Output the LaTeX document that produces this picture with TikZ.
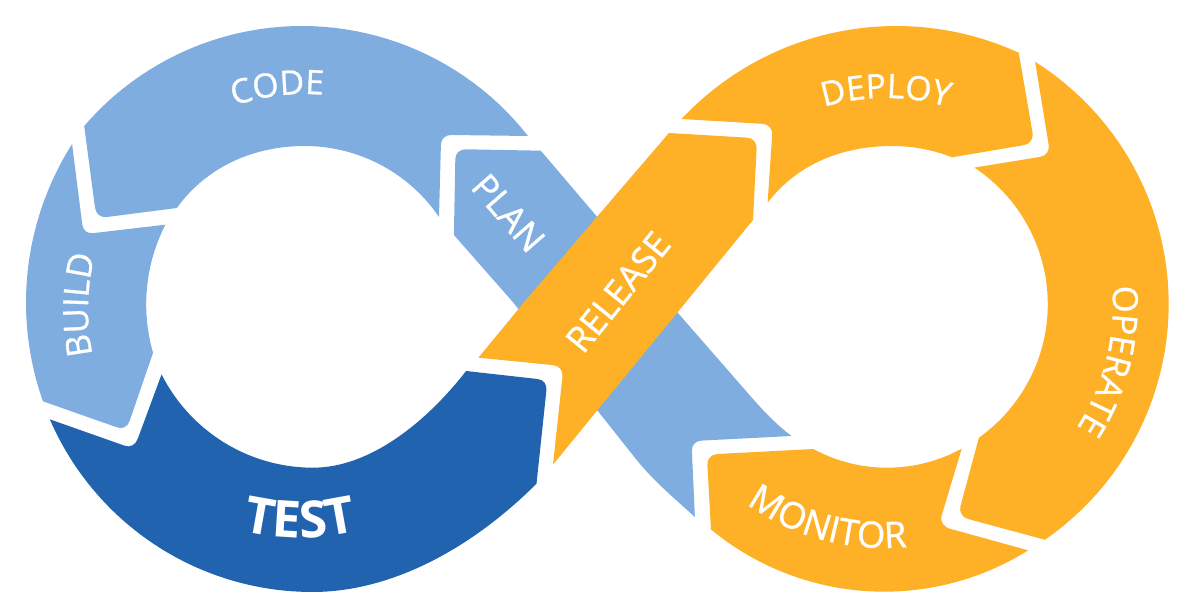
\documentclass[tikz,border=0pt]{standalone}
\usepackage{fontspec}
\setmainfont{Open Sans}
\newfontface\labelface[FakeBold=0.9]{Open Sans}
\usetikzlibrary{decorations.text,calc}
\definecolor{paleblue}{HTML}{7FADDF}
\definecolor{deepblue}{HTML}{2163AF}
\definecolor{amber}{HTML}{FEB127}
\newcommand{\lblsm}{\labelface\fontsize{16.8}{20}\selectfont\color{white}}
\newcommand{\lblmd}{\labelface\fontsize{17.3}{20}\selectfont\color{white}}
\newcommand{\lblbg}{\labelface\fontsize{18.2}{20}\selectfont\color{white}}
\newcommand{\bigfont}{\fontsize{25.5}{28}\selectfont\bfseries\color{white}}
% an arc of a circle, joined to the path by a straight piece: cx, cy, r, from, to
\newcommand{\bow}[5]{-- plot[domain=#4:#5,samples=48] ({#1+#3*cos(\x)},{#2+#3*sin(\x)})}
% a rounded corner: start of the bend, corner, end of the bend
\newcommand{\rnd}[3]{-- (#1) .. controls ($(#1)!.6!(#2)$) and ($(#3)!.6!(#2)$) .. (#3)}
% a word set on an arc
\newcommand{\arcword}[6]{\path[decorate,decoration={text along path,text align=center,text={#6}}] plot[domain=#4:#5,samples=90] ({#1+#3*cos(\x)},{#2+#3*sin(\x)});}
\tikzset{
  lightseg/.style={fill=paleblue},
  darkseg/.style={fill=deepblue},
  orangeseg/.style={fill=amber},
  straightlabel/.style={text=white,inner sep=0pt,font=\labelface\fontsize{17.8}{20}\selectfont}
}
\begin{document}
\begin{tikzpicture}[x=0.5pt,y=-0.5pt]
\useasboundingbox (0,0) rectangle (1200,604);
% CODE
\fill[lightseg] (84.2,126) \bow{302}{313.2}{287.2}{220.7}{321.9}
  \rnd{451,135}{441,135}{440.9,145} -- (439,216.7)
  \bow{304.7}{308.6}{162.6}{325.6}{270}
  .. controls (256,146) and (208,165) .. (176.8,208)
  \rnd{107,217}{96,218.5}{94.9,207} -- cycle;
% BUILD
\fill[lightseg] (42.9,401.3) \bow{322}{302.6}{296}{160.5}{212.4}
  \rnd{82.2,224}{83,234.5}{93.5,233.1} -- (165.3,224.7)
  \bow{321}{304.3}{174.8}{207.1}{163.9}
  \rnd{129.6,421}{126,431.5}{116,427} -- cycle;
% PLAN band, passing behind RELEASE
\fill[lightseg] (466,149.3) -- (540.8,150.7) -- (597,216.7) -- (677.7,312.7) -- (745.4,390.3)
  .. controls (764,412) and (776,424) .. (791.4,436)
  \rnd{701.5,440.6}{691.5,441}{691.9,451} -- (694.9,517)
  .. controls (675,499) and (655,482) .. (638.3,462)
  -- (600,413.7) -- (512.8,302) -- (453.9,235) -- (455.3,159)
  .. controls (455.4,153) and (460,149.3) .. cycle;
% TEST
\fill[darkseg] (49.8,419.3) \bow{312.4}{306}{286}{156.7}{90}
  .. controls (390,592) and (470,550) .. (536.5,483.7)
  \rnd{546.4,390.5}{547.5,380}{537.5,379} -- (466.1,371)
  .. controls (424,425) and (368,467.7) .. (313,467.7)
  \bow{313}{298.2}{169.5}{90}{153.3}
  \rnd{137.8,438.7}{134,449.5}{124,445.5} -- cycle;
% RELEASE
\fill[orangeseg] (668.9,133) \rnd{746.5,137.6}{757,138.2}{756.6,148.5}
  -- (753,220) -- (686,302) -- (600,407) -- (553,464.7) \rnd{562.4,377}{563.7,366.3}{553,365.1}
  -- (478.4,357.7) -- (524.3,302) -- (600,213.3) -- cycle;
% DEPLOY
\fill[orangeseg] (681.5,119) \bow{896.2}{320.4}{294.4}{223.2}{294.6}
  \rnd{1032.6,133}{1034,143.5}{1023.6,145.2} -- (952.1,157.3)
  \bow{892.1}{311.1}{165.1}{291.3}{270}
  .. controls (844,146) and (798,163) .. (767.6,202.7)
  \rnd{772.2,134.5}{772.5,124.3}{762,123.8} -- cycle;
% OPERATE
\fill[orangeseg] (1035.1,61.7) \bow{882.3}{304}{286.4}{-57.8}{55.4}
  \rnd{968,519}{958,516}{960.5,506} -- (978.9,437.7)
  \bow{884}{304.2}{163.8}{54.6}{-56.5}
  \rnd{1040,156.9}{1050,155.3}{1048.7,145} -- cycle;
% MONITOR
\fill[orangeseg] (717.5,454) \rnd{717.5,454}{707,454.5}{707.4,465} -- (711,530)
  \bow{884.1}{319.7}{272}{129.5}{58}
  \rnd{951,529}{939,526}{941.5,516} -- (961.7,448.7)
  \bow{887.2}{312.4}{155.3}{61.3}{118.4}
  -- cycle;
% labels
\arcword{305}{310}{216}{222.9}{302.9}{|\lblsm|CODE}
\arcword{310}{310}{222}{151.3}{211.3}{|\lblmd|BUILD}
\arcword{300}{300}{238}{120}{60}{|\bigfont|TEST}
\arcword{886}{320}{222}{230}{310}{|\lblsm|DEPLOY}
\arcword{884}{304}{229}{-25.9}{54.1}{|\lblmd|OPERATE}
\arcword{884}{312}{236}{145}{65}{|\lblbg|MONITOR}
\node[straightlabel,rotate=-49] (plan) at (508.5,213) {PLAN};
\node[straightlabel,rotate=51] (release) at (618,292) {RELEASE};
\end{tikzpicture}
\end{document}
